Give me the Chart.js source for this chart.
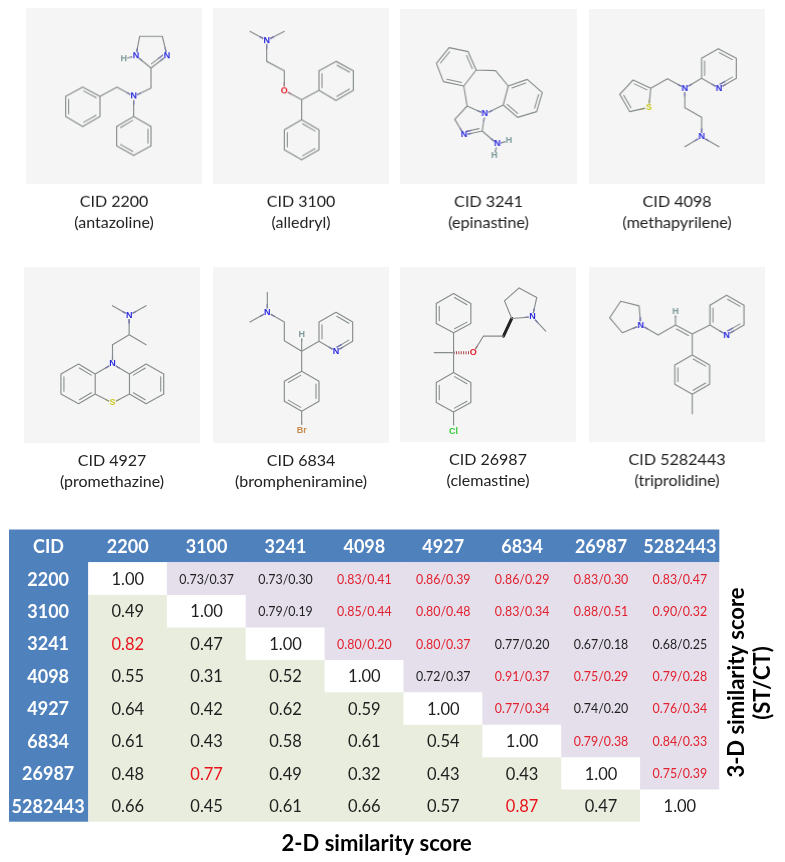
<!DOCTYPE html>
<html><head><meta charset="utf-8">
<script src="https://cdn.jsdelivr.net/npm/chart.js@4"></script>
<style>html,body{margin:0;padding:0;background:#fff}canvas{position:absolute;display:block}</style>
</head><body>
<canvas id="table"></canvas>
<script>
// ---------- similarity matrix ----------
const cids = ['2200','3100','3241','4098','4927','6834','26987','5282443'];
const sim2D = [
  [],
  ['0.49'],
  ['0.82','0.47'],
  ['0.55','0.31','0.52'],
  ['0.64','0.42','0.62','0.59'],
  ['0.61','0.43','0.58','0.61','0.54'],
  ['0.48','0.77','0.49','0.32','0.43','0.43'],
  ['0.66','0.45','0.61','0.66','0.57','0.87','0.47']
];
const sim3D = [
  ['0.73/0.37','0.73/0.30','0.83/0.41','0.86/0.39','0.86/0.29','0.83/0.30','0.83/0.47'],
  ['0.79/0.19','0.85/0.44','0.80/0.48','0.83/0.34','0.88/0.51','0.90/0.32'],
  ['0.80/0.20','0.80/0.37','0.77/0.20','0.67/0.18','0.68/0.25'],
  ['0.72/0.37','0.91/0.37','0.75/0.29','0.79/0.28'],
  ['0.77/0.34','0.74/0.20','0.76/0.34'],
  ['0.79/0.38','0.84/0.33'],
  ['0.75/0.39'],
  []
];
const red3D = ['0.83/0.41','0.86/0.39','0.86/0.29','0.83/0.30','0.83/0.47','0.85/0.44','0.80/0.48','0.83/0.34','0.88/0.51','0.90/0.32','0.80/0.20','0.80/0.37','0.91/0.37','0.75/0.29','0.79/0.28','0.77/0.34','0.76/0.34','0.79/0.38','0.84/0.33','0.75/0.39'];
const red2D = ['0.82','0.77','0.87'];
const cornerLabel = 'CID';
const xTitle = '2-D similarity score';
const yTitle = ['3-D similarity score','(ST/CT)'];

// ---------- molecule drawings: chains, rings [doubleEdges, vertices], atoms [label,x,y,colour] ----------
const N='#2a2ae0',O='#e8202c',S='#c9c91e',H='#7f9c9c',BR='#c98a50',CL='#36c936';
const mol2200 = {name:'CID 2200',sub:'(antazoline)',crop:[0,0],panel:[77,605,25,552],
 chains:[[407,168,370,178],[452,205,452,265,400,290,350,262,299,290],[400,290,400,350]],
 rings:[[[3],[[407,168],[418,110],[486,110],[500,168],[452,205]]],
  [[0,2,4],[[299,290],[247,262],[196,290],[196,350],[247,380],[299,350]]],
  [[1,3,5],[[400,350],[452,380],[452,438],[400,467],[349,438],[349,380]]]],
 atoms:[['N',407,168,N],['N',500,168,N],['H',370,178,H],['N',400,290,N]]};
const mol3100 = {name:'CID 3100',sub:'(alledryl)',crop:[0,0],panel:[639,1167,25,552],
 chains:[[750,95,800,122,853,95],[800,122,800,185,853,213,853,272,905,300,957,272],[905,300,905,360]],
 rings:[[[1,3,5],[[957,213],[1008,185],[1060,213],[1060,272],[1008,302],[957,272]]],
  [[0,2,4],[[905,360],[957,390],[957,450],[905,480],[853,450],[853,390]]]],
 atoms:[['N',800,122,N],['O',853,272,O]]};
const mol3241 = {name:'CID 3241',sub:'(epinastine)',crop:[395,0],panel:[16,546,27,552],
 chains:[[244,210,302,212,340,258],[207,258,217,318],[325,315,270,342],[262,393,307,432],[342,422,307,432,298,468]],
 rings:[[[1,3,5],[[163,143],[220,155],[244,210],[207,258],[146,245],[125,190]]],
  [[0,2,4],[[340,258],[397,238],[442,278],[425,335],[368,352],[325,315]]],
  [[2],[[217,318],[180,358],[208,405],[262,393],[270,342]]]],
 atoms:[['N',270,342,N],['N',208,405,N],['N',307,432,N],['H',342,422,H],['H',298,468,H]]};
const mol4098 = {name:'CID 4098',sub:'(methapyrilene)',crop:[395,0],panel:[583,1110,27,552],
 chains:[[920,235,870,265,818,236,768,265],[870,265,870,323,920,352,920,410,870,440],[920,410,972,440]],
 rings:[[[1,3,5],[[920,175],[970,146],[1024,175],[1024,235],[972,265],[920,235]]],
  [[0,2],[[768,265],[715,240],[675,283],[705,335],[762,322]]]],
 atoms:[['N',972,265,N],['N',870,265,N],['S',762,322,S],['N',920,410,N]]};
const mol4927 = {name:'CID 4927',sub:'(promethazine)',crop:[0,260],panel:[71,600,22,550],
 chains:[[337,138,387,167,438,138],[387,167,387,225,438,255],[387,225,337,255,337,313],[285,343,337,313,388,343],[285,403,337,430,388,403]],
 rings:[[[0,2,4],[[285,343],[235,313],[182,343],[182,403],[235,432],[285,403]]],
  [[0,2,4],[[388,343],[438,313],[491,343],[491,403],[438,432],[388,403]]]],
 atoms:[['N',387,167,N],['N',337,313,N],['S',337,430,S]]};
const mol6834 = {name:'CID 6834',sub:'(brompheniramine)',crop:[0,260],panel:[639,1167,22,550],
 chains:[[802,98,802,158,750,187],[802,158,853,187,853,243,905,275,957,245],[905,225,905,275,905,335],[905,455,905,513]],
 rings:[[[0,2,4],[[957,245],[957,187],[1008,158],[1058,187],[1058,245],[1008,275]]],
  [[1,3,5],[[905,335],[957,365],[957,425],[905,455],[853,425],[853,365]]]],
 atoms:[['N',802,158,N],['H',905,225,H],['N',1008,275,N],['Br',905,513,BR]]};
const mol26987 = {name:'CID 26987',sub:'(clemastine)',crop:[395,260],panel:[14,543,20,547],
 chains:[[175,218,175,338],[117,278,175,278],[175,457,175,515],[234,278,265,228,325,228],[412,170,452,213],[350,175,412,170]],
 rings:[[[0,2,4],[[175,100],[227,130],[227,190],[175,218],[123,190],[123,130]]],
  [[0,2,4],[[175,338],[227,368],[227,428],[175,457],[123,428],[123,368]]],
  [[],[[350,175],[328,122],[372,83],[425,112],[412,170]]]],
 wedge:[350,175,325,228],
 hash:[175,278,230,278],
 atoms:[['O',234,278,O],['N',412,170,N],['Cl',175,515,CL]]};
const mol5282443 = {name:'CID 5282443',sub:'(triprolidine)',crop:[395,260],panel:[583,1110,20,547],
 chains:[[738,195,790,225,842,195],[842,155,842,195],[945,195,892,222,892,285],[892,403,892,462]],
 doubles:[[842,195,892,222,842,300]],
 rings:[[[],[[738,195],[683,218],[645,173],[678,123],[733,137]]],
  [[0,2,4],[[945,195],[945,135],[995,105],[1047,135],[1047,195],[995,225]]],
  [[0,2,4],[[892,285],[944,315],[944,373],[892,403],[840,373],[840,315]]]],
 atoms:[['N',738,195,N],['H',842,155,H],['N',995,225,N]]};
const molecules = [mol2200,mol3100,mol3241,mol4098,mol4927,mol6834,mol26987,mol5282443];

// ---------- style ----------
const BLUE='#4f81bd',GREEN='#e9eddd',PURPLE='#e5dfec',WHITE='#ffffff',INK='#1f1f1f',RED='#e8141c',SMALLRED='#e2202e';
const FONT='Lato, Carlito, sans-serif';

// ---------- molecule charts ----------
function moleculeChart(m){
  const bond=[],inner=[],tips={},hash=[],wedge=[];
  const segs=[];
  const pushSeg=(a,b,c,d)=>{segs.push([a,b,c,d]);bond.push({x:a,y:b},{x:c,y:d},{x:NaN,y:NaN});};
  m.chains.forEach(ch=>{for(let i=0;i+3<ch.length;i+=2)pushSeg(ch[i],ch[i+1],ch[i+2],ch[i+3]);});
  const addInner=(a,b,c,d,cx,cy)=>{
    const dx=c-a,dy=d-b,L=Math.hypot(dx,dy);let nx=-dy/L,ny=dx/L;
    if((cx-(a+c)/2)*nx+(cy-(b+d)/2)*ny<0){nx=-nx;ny=-ny;}
    const o=9,t=.14;
    inner.push({x:a+dx*t+nx*o,y:b+dy*t+ny*o},{x:c-dx*t+nx*o,y:d-dy*t+ny*o},{x:NaN,y:NaN});
    segs.push([a+dx*t+nx*o,b+dy*t+ny*o,c-dx*t+nx*o,d-dy*t+ny*o]);
  };
  m.rings.forEach(([dbl,v])=>{
    const cx=v.reduce((s,p)=>s+p[0],0)/v.length,cy=v.reduce((s,p)=>s+p[1],0)/v.length;
    v.forEach((p,i)=>{const q=v[(i+1)%v.length];pushSeg(p[0],p[1],q[0],q[1]);
      if(dbl.includes(i))addInner(p[0],p[1],q[0],q[1],cx,cy);});
  });
  (m.doubles||[]).forEach(d=>{pushSeg(d[0],d[1],d[2],d[3]);addInner(d[0],d[1],d[2],d[3],d[4],d[5]);});
  if(m.wedge){const w=m.wedge;wedge.push({x:w[0],y:w[1]},{x:w[2],y:w[3]});}
  if(m.hash){const h=m.hash;hash.push({x:h[0],y:h[1]},{x:h[2],y:h[3]});}
  m.atoms.forEach(([lab,ax,ay,col])=>{
    segs.forEach(s=>{
      [[s[0],s[1],s[2],s[3]],[s[2],s[3],s[0],s[1]]].forEach(([a,b,c,d])=>{
        if(Math.hypot(a-ax,b-ay)<16){(tips[col]=tips[col]||[]).push({x:a,y:b},{x:a+(c-a)*.4,y:b+(d-b)*.4},{x:NaN,y:NaN});}
      });
    });
  });
  const line=(data,color,w,dash,cap)=>({data,showLine:true,spanGaps:false,pointRadius:0,borderColor:color,borderWidth:w,borderDash:dash||[],borderCapStyle:cap||'round'});
  const datasets=[line(bond,'#878c8c',1.15),line(inner,'#878c8c',1.05)];
  if(wedge.length)datasets.push(line(wedge,'#222',3));
  if(hash.length)datasets.push(line(hash,'#a8404a',3,[1,1.4],'butt'));
  Object.keys(tips).forEach(c=>datasets.push(line(tips[c],c,1.15)));

  const cv=document.createElement('canvas');document.body.appendChild(cv);
  const [x0,x1,y0,y1]=m.panel,W=(x1-x0)/3,Ht=(y1-y0)/3+60;
  cv.width=W;cv.height=Ht;
  cv.style.left=(m.crop[0]+x0/3)+'px';cv.style.top=(m.crop[1]+y0/3)+'px';
  cv.style.width=W+'px';cv.style.height=Ht+'px';
  new Chart(cv,{type:'scatter',data:{datasets},
    options:{responsive:false,animation:false,devicePixelRatio:1,layout:{padding:0},
      scales:{x:{type:'linear',min:x0,max:x1,display:false},y:{type:'linear',min:y0,max:y1,reverse:true,display:false}},
      plugins:{legend:{display:false},tooltip:{enabled:false},
        title:{display:true,position:'bottom',text:[m.name,m.sub],color:'#222',font:{family:FONT,size:16,weight:'normal',lineHeight:1.3125},padding:{top:7,bottom:11}}}},
    plugins:[{id:'panel',
      beforeDraw(c){const a=c.chartArea,g=c.ctx;g.save();g.fillStyle='#f5f5f5';g.fillRect(a.left,a.top,a.width,a.height);g.restore();},
      afterDatasetsDraw(c){const g=c.ctx,xs=c.scales.x,ys=c.scales.y;g.save();g.textAlign='center';g.textBaseline='middle';
        m.atoms.forEach(([lab,ax,ay,col])=>{const px=xs.getPixelForValue(ax),py=ys.getPixelForValue(ay);
          g.fillStyle='#f5f5f5';g.beginPath();g.arc(px,py,lab.length>1?6:3.8,0,7);g.fill();
          g.fillStyle=col;g.font='bold 9px "Liberation Sans", sans-serif';g.fillText(lab,px,py);});
        g.restore();}}]
  });
}
molecules.forEach(moleculeChart);

// ---------- matrix chart ----------
const cellColor=(r,c)=>r===c?WHITE:(r>c?GREEN:PURPLE);
const datasets=cids.map((_,r)=>({label:cids[r],data:cids.map(()=>1),stack:'m',
  backgroundColor:cids.map((_,c)=>cellColor(r,c)),borderWidth:0,barPercentage:1,categoryPercentage:1}));
const tbl=document.getElementById('table');
tbl.width=785;tbl.height=342;tbl.style.left='0px';tbl.style.top='520px';tbl.style.width='785px';tbl.style.height='342px';
new Chart(tbl,{type:'bar',data:{labels:cids,datasets},
  options:{responsive:false,animation:false,devicePixelRatio:1,
    layout:{padding:{left:9,top:9.5,right:65.7,bottom:40.3}},
    plugins:{legend:{display:false},tooltip:{enabled:false}},
    scales:{
      x:{position:'top',stacked:true,grid:{display:false,drawTicks:false},border:{display:false},
        ticks:{color:'#fff',font:{family:FONT,size:18,weight:'bold'},padding:4.5,autoSkip:false,maxRotation:0,minRotation:0},
        afterFit(s){s.height=32.8;}},
      y:{type:'linear',min:0,max:8,reverse:true,stacked:true,grid:{display:false,drawTicks:false},border:{display:false},
        afterBuildTicks(s){s.ticks=cids.map((_,i)=>({value:i+.5}));},
        ticks:{color:'#fff',font:{family:FONT,size:18,weight:'bold'},padding:3.6,crossAlign:'center',labelOffset:1.3,autoSkip:false,callback:v=>cids[v-.5]},
        afterFit(s){s.width=79.3;}}
    }},
  plugins:[{id:'matrix',
    beforeDraw(c){const a=c.chartArea,g=c.ctx;g.save();g.fillStyle=BLUE;
      g.fillRect(9,9.5,a.right-9,a.top-9.5);g.fillRect(9,a.top-.5,a.left-9,a.height+.5);g.restore();},
    afterDatasetsDraw(c){const g=c.ctx,xs=c.scales.x,ys=c.scales.y,a=c.chartArea;g.save();
      g.textAlign='center';g.textBaseline='middle';
      g.fillStyle='#fff';g.font='bold 18px '+FONT;g.fillText(cornerLabel,48.5,a.top-15);
      cids.forEach((_,r)=>cids.forEach((_,c2)=>{
        const x=xs.getPixelForTick(c2),y=ys.getPixelForValue(r+.5)+1.2;
        if(r===c2){g.font='16.5px '+FONT;g.fillStyle=INK;g.fillText('1.00',x,y);}
        else if(r>c2){const t=sim2D[r][c2];g.font='16.5px '+FONT;g.fillStyle=red2D.includes(t)?RED:INK;g.fillText(t,x,y);}
        else{const t=sim3D[r][c2-r-1];g.font='12.4px '+FONT;g.fillStyle=red3D.includes(t)?SMALLRED:INK;g.fillText(t,x,y);}
      }));
      g.fillStyle='#000';g.font='bold 22px '+FONT;
      g.fillText(xTitle,376.7,324);
      g.save();g.translate(737,162.5);g.rotate(-Math.PI/2);g.fillText(yTitle[0],0,0);g.restore();
      g.save();g.translate(763,163);g.rotate(-Math.PI/2);g.fillText(yTitle[1],0,0);g.restore();
      g.restore();}}]
});
</script>
</body></html>
